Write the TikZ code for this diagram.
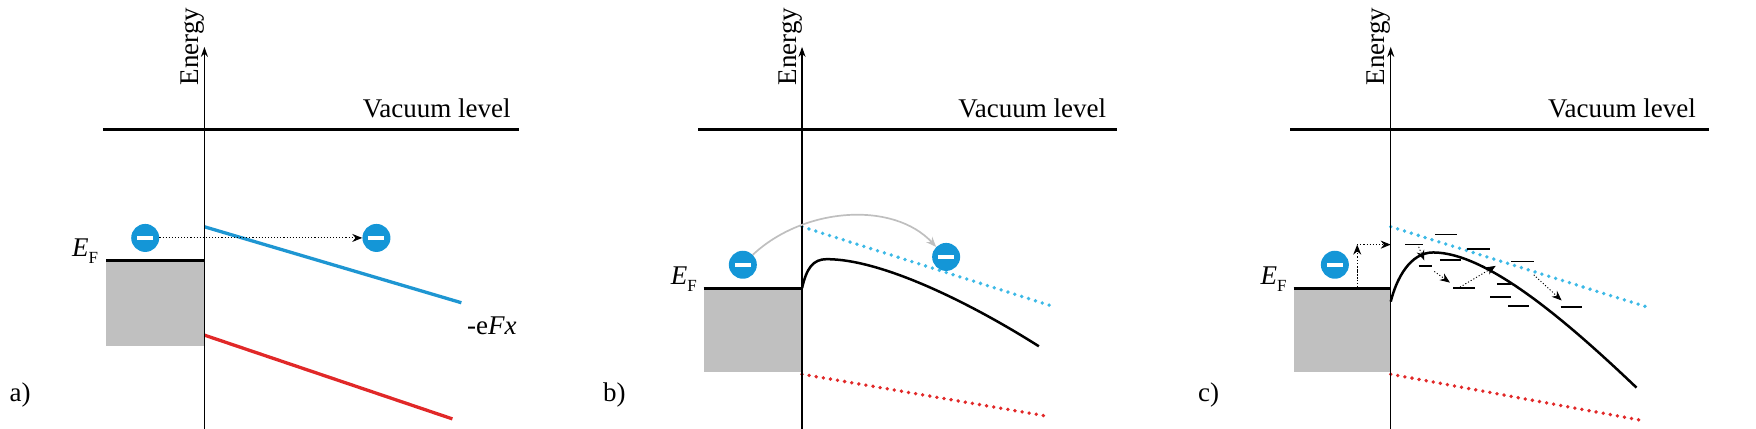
\documentclass[tikz,border=0pt]{standalone}
\usepackage{fontspec}
\setmainfont{Liberation Serif}
\usetikzlibrary{arrows.meta}
\definecolor{eblue}{RGB}{20,150,215}
\definecolor{lblue}{RGB}{30,150,210}
\definecolor{cdot}{RGB}{60,185,230}
\definecolor{lred}{RGB}{225,40,40}
\definecolor{gbox}{RGB}{192,192,192}
\tikzset{
 axis/.style={line width=1.4pt,-{Stealth[length=10pt,width=7pt]}},
 vac/.style={line width=3.3pt},
 fermi/.style={line width=3.3pt},
 bx/.style={fill=gbox,draw=none},
 lab/.style={font=\fontsize{27}{31}\selectfont,inner sep=0pt},
 elec/.style={circle,fill=eblue,minimum size=28pt,inner sep=0pt,
   path picture={\fill[white] ([xshift=-8pt,yshift=-2.2pt]path picture bounding box.center) rectangle ([xshift=8pt,yshift=2.2pt]path picture bounding box.center);}},
 dotl/.style={line width=3.8pt,dash pattern=on 0pt off 7.2pt,line cap=round},
 smalldot/.style={line width=1.1pt,dotted,-{Stealth[length=10pt,width=8pt]}},
 lvl/.style={line width=1.7pt},
 curve/.style={line width=2.5pt}
}
\newcommand{\EFlabel}{\textit{E}\raisebox{-7pt}{\fontsize{17}{17}\selectfont F}}
\begin{document}
\begin{tikzpicture}[x=1.117pt,y=-1.117pt]
\useasboundingbox (0,0) rectangle (1572,384);
% ---------- panel a ----------
\fill[bx] (95,233) rectangle (183,310);
\draw[fermi] (95,233) -- (183,233);
\draw[vac] (92,116) -- (465,116);
\draw[line width=3.3pt,lblue] (183,203) -- (413,271);
\draw[line width=3.3pt,lred] (183,300) -- (405,375);
\draw[axis] (183,384) -- (183,42);
\node[lab,rotate=90,anchor=south east] (ena) at (183,4) [xshift=-3pt] {Energy};
\node[lab,anchor=south] (vla) at (391,106) {Vacuum level};
\node[lab,anchor=east] (efa) at (88,225) {\EFlabel};
\node[elec] (e1a) at (130,213) {};
\node[elec] (e2a) at (337,213) {};
\draw[smalldot] (e1a) -- (e2a);
\node[lab,anchor=west] (fxa) at (418,292) {-e\textit{Fx}};
\node[lab] (a) at (18,354) {a)};
% ---------- panel b ----------
\fill[bx] (630,258) rectangle (718,333);
\draw[fermi] (630,258) -- (718,258);
\draw[vac] (625,116) -- (1000,116);
\draw[dotl,cdot] (718,203) -- (945,275);
\draw[dotl,lred] (718,335) -- (940,373);
\draw[curve] (718,258) .. controls (722,240) and (728,232) .. (740,232) .. controls (790,232) and (870,272) .. (930,310);
\draw[axis] (718,384) -- (718,42);
\node[lab,rotate=90,anchor=south east] (enb) at (718,4) [xshift=-3pt] {Energy};
\node[lab,anchor=south] (vlb) at (924,106) {Vacuum level};
\node[lab,anchor=east] (efb) at (624,250) {\EFlabel};
\node[elec] (e1b) at (665,237) {};
\node[elec] (e2b) at (847,230) {};
\draw[line width=1.7pt,gray!50,-{Stealth[length=10pt,width=8pt]}] (e1b.north east) .. controls (720,185) and (800,180) .. (e2b.north west);
\node[lab] (b) at (550,354) {b)};
% ---------- panel c ----------
\fill[bx] (1158,258) rectangle (1245,333);
\draw[fermi] (1158,258) -- (1245,258);
\draw[vac] (1155,116) -- (1530,116);
\draw[dotl,cdot] (1245,203) -- (1475,275);
\draw[dotl,lred] (1245,335) -- (1468,376);
\draw[curve] (1245,270) .. controls (1250,250) and (1262,226) .. (1283,226) .. controls (1330,226) and (1400,285) .. (1465,347);
\draw[axis] (1245,384) -- (1245,42);
\node[lab,rotate=90,anchor=south east] (enc) at (1245,4) [xshift=-3pt] {Energy};
\node[lab,anchor=south] (vlc) at (1452,106) {Vacuum level};
\node[lab,anchor=east] (efc) at (1152,250) {\EFlabel};
\node[elec] (e1c) at (1195,237) {};
\node[lab] (c) at (1082,354) {c)};
% trap levels
\foreach \xa/\xb/\yy in {1285/1304/210,1258/1274/219,1289/1308/233,1270/1282/238,1313/1334/223,1353/1373/234,1301/1320/258,1340/1353/254,1334/1353/266,1350/1369/274,1397/1416/275}
  \draw[lvl] (\xa,\yy) -- (\xb,\yy);
\coordinate (c0) at (1215,257);
\coordinate (c1) at (1215,219);
\coordinate (c2) at (1245,219);
\draw[line width=1.1pt,dotted] (c0) -- (1215,238);
\draw[smalldot] (1215,250) -- (c1);
\draw[smalldot] (c1) -- (c2);
\coordinate (t1s) at (1270,221); \coordinate (t1e) at (1275,233);
\coordinate (t2s) at (1284,243); \coordinate (t2e) at (1298,253);
\coordinate (t3s) at (1307,257); \coordinate (t3e) at (1339,238);
\coordinate (t4s) at (1373,246); \coordinate (t4e) at (1398,269);
\draw[smalldot,line width=0.9pt] (t1s) -- (t1e);
\draw[smalldot,line width=0.9pt] (t2s) -- (t2e);
\draw[smalldot,line width=0.9pt] (t3s) -- (t3e);
\draw[smalldot,line width=0.9pt] (t4s) -- (t4e);
\end{tikzpicture}
\end{document}
